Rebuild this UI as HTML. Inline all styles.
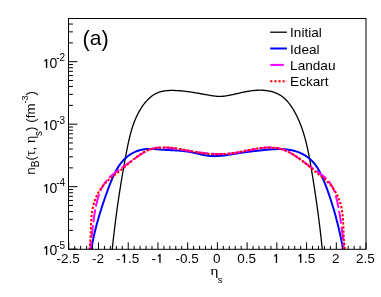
<!DOCTYPE html>
<html><head><meta charset="utf-8"><style>
html,body{margin:0;padding:0;background:#fff;}
body{width:381px;height:297px;overflow:hidden;}
svg{display:block;}
</style></head><body>
<svg width="381" height="297" viewBox="0 0 381 297">
<defs><clipPath id="fr"><rect x="68.5" y="18.5" width="297.5" height="230.8"/></clipPath></defs>
<g clip-path="url(#fr)" fill="none" stroke-linejoin="round">
<path d="M111.75,254.07L111.85,253.13L111.94,252.19L112.04,251.25L112.14,250.31L112.23,249.37L112.33,248.43L112.43,247.49L112.53,246.56L112.63,245.62L112.73,244.68L112.83,243.75L112.93,242.81L113.03,241.88L113.14,240.95L113.24,240.01L113.34,239.08L113.45,238.15L113.55,237.22L113.66,236.29L113.77,235.36L113.87,234.43L113.98,233.5L114.09,232.57L114.2,231.65L114.31,230.72L114.42,229.79L114.53,228.87L114.64,227.94L114.76,227.02L114.87,226.09L114.99,225.17L115.1,224.24L115.22,223.32L115.33,222.4L115.45,221.47L115.57,220.55L115.69,219.63L115.81,218.71L115.93,217.79L116.05,216.87L116.17,215.94L116.29,215.02L116.41,214.1L116.54,213.18L116.66,212.27L116.78,211.35L116.91,210.43L117.04,209.51L117.16,208.59L117.29,207.67L117.42,206.75L117.55,205.84L117.68,204.92L117.81,204L117.94,203.08L118.07,202.17L118.21,201.25L118.34,200.33L118.48,199.42L118.61,198.5L118.75,197.58L118.88,196.67L119.02,195.75L119.16,194.84L119.3,193.92L119.44,193L119.58,192.09L119.72,191.17L119.86,190.25L120.01,189.34L120.15,188.42L120.3,187.51L120.44,186.59L120.59,185.67L120.73,184.76L120.88,183.84L121.03,182.92L121.18,182.01L121.33,181.09L121.48,180.18L121.63,179.26L121.78,178.34L121.94,177.42L122.09,176.51L122.25,175.59L122.4,174.67L122.56,173.75L122.72,172.84L122.88,171.92L123.03,171L123.19,170.08L123.36,169.16L123.52,168.24L123.68,167.32L123.84,166.4L124.01,165.48L124.17,164.56L124.34,163.64L124.5,162.72L124.67,161.8L124.84,160.88L125.01,159.95L125.18,159.03L125.35,158.11L125.52,157.19L125.69,156.26L125.87,155.34L126.04,154.41L126.22,153.49L126.39,152.56L126.57,151.64L126.75,150.71L126.93,149.78L127.11,148.86L127.29,147.93L127.48,147.01L127.66,146.08L127.85,145.15L128.05,144.23L128.24,143.31L128.44,142.38L128.64,141.46L128.85,140.54L129.06,139.62L129.27,138.71L129.49,137.79L129.71,136.88L129.94,135.96L130.17,135.05L130.4,134.14L130.65,133.24L130.89,132.33L131.15,131.43L131.41,130.53L131.67,129.64L131.94,128.74L132.22,127.85L132.5,126.97L132.8,126.08L133.1,125.2L133.4,124.32L133.72,123.45L134.04,122.58L134.37,121.72L134.71,120.85L135.05,120L135.41,119.14L135.77,118.3L136.15,117.45L136.53,116.61L136.92,115.78L137.33,114.95L137.74,114.12L138.16,113.3L138.59,112.49L139.04,111.68L139.49,110.88L139.96,110.08L140.44,109.29L140.93,108.51L141.43,107.73L141.94,106.95L142.46,106.19L143,105.43L143.55,104.67L144.11,103.93L144.69,103.2L145.27,102.48L145.87,101.76L146.49,101.07L147.12,100.38L147.76,99.71L148.41,99.06L149.08,98.43L149.76,97.81L150.45,97.21L151.16,96.63L151.89,96.08L152.63,95.54L153.38,95.03L154.15,94.55L154.93,94.09L155.72,93.66L156.54,93.25L157.36,92.88L158.2,92.53L159.06,92.21L159.93,91.93L160.82,91.67L161.72,91.45L162.63,91.24L163.55,91.07L164.48,90.92L165.42,90.79L166.36,90.68L167.31,90.6L168.27,90.53L169.23,90.48L170.2,90.45L171.16,90.43L172.13,90.43L173.1,90.44L174.06,90.46L175.03,90.49L175.99,90.53L176.95,90.58L177.9,90.64L178.85,90.7L179.79,90.77L180.74,90.85L181.68,90.93L182.61,91.02L183.54,91.12L184.47,91.22L185.4,91.33L186.32,91.44L187.24,91.55L188.16,91.68L189.08,91.8L190,91.93L190.91,92.07L191.82,92.21L192.74,92.35L193.65,92.49L194.56,92.64L195.46,92.79L196.37,92.95L197.28,93.1L198.19,93.26L199.09,93.42L200,93.58L200.91,93.74L201.82,93.91L202.73,94.07L203.64,94.24L204.55,94.4L205.46,94.57L206.37,94.73L207.28,94.9L208.2,95.06L209.12,95.22L210.04,95.38L210.96,95.54L211.88,95.69L212.81,95.83L213.73,95.96L214.66,96.08L215.58,96.18L216.51,96.27L217.43,96.33L218.36,96.38L219.28,96.4L220.21,96.4L221.13,96.37L222.06,96.32L222.98,96.24L223.9,96.15L224.82,96.04L225.74,95.91L226.65,95.77L227.57,95.62L228.48,95.46L229.39,95.28L230.3,95.1L231.21,94.91L232.12,94.72L233.02,94.53L233.92,94.33L234.82,94.12L235.72,93.92L236.62,93.71L237.51,93.51L238.41,93.3L239.31,93.1L240.21,92.89L241.1,92.69L242,92.49L242.9,92.3L243.8,92.1L244.71,91.92L245.61,91.74L246.52,91.56L247.43,91.4L248.34,91.24L249.25,91.09L250.17,90.94L251.09,90.81L252.02,90.69L252.95,90.58L253.88,90.48L254.82,90.4L255.76,90.33L256.71,90.27L257.66,90.23L258.61,90.2L259.57,90.19L260.54,90.2L261.5,90.22L262.47,90.26L263.43,90.31L264.39,90.39L265.35,90.48L266.31,90.59L267.26,90.72L268.21,90.87L269.15,91.04L270.09,91.24L271.02,91.45L271.93,91.68L272.84,91.94L273.74,92.22L274.62,92.52L275.5,92.84L276.35,93.19L277.2,93.56L278.02,93.96L278.83,94.38L279.63,94.83L280.4,95.3L281.16,95.8L281.9,96.32L282.63,96.86L283.34,97.42L284.03,98.01L284.71,98.61L285.38,99.23L286.03,99.87L286.66,100.53L287.28,101.2L287.89,101.89L288.48,102.6L289.06,103.31L289.63,104.05L290.19,104.79L290.73,105.55L291.26,106.32L291.78,107.09L292.29,107.88L292.79,108.68L293.28,109.48L293.76,110.29L294.22,111.11L294.68,111.93L295.13,112.76L295.57,113.59L296.01,114.42L296.43,115.26L296.84,116.1L297.25,116.95L297.65,117.79L298.04,118.64L298.43,119.49L298.8,120.35L299.17,121.2L299.53,122.06L299.89,122.92L300.23,123.79L300.57,124.65L300.91,125.52L301.23,126.39L301.55,127.27L301.87,128.14L302.17,129.02L302.47,129.9L302.77,130.78L303.06,131.67L303.34,132.55L303.62,133.44L303.89,134.33L304.16,135.22L304.42,136.12L304.67,137.01L304.92,137.91L305.17,138.81L305.41,139.71L305.65,140.61L305.88,141.51L306.11,142.42L306.33,143.32L306.55,144.23L306.76,145.14L306.98,146.05L307.18,146.96L307.39,147.87L307.59,148.78L307.78,149.7L307.98,150.61L308.17,151.53L308.36,152.44L308.54,153.36L308.72,154.28L308.9,155.19L309.08,156.11L309.25,157.03L309.42,157.95L309.59,158.87L309.76,159.79L309.93,160.72L310.09,161.64L310.26,162.56L310.42,163.48L310.58,164.4L310.74,165.32L310.89,166.25L311.05,167.17L311.21,168.09L311.36,169.01L311.52,169.94L311.67,170.86L311.82,171.78L311.98,172.7L312.13,173.62L312.28,174.54L312.43,175.47L312.58,176.39L312.73,177.31L312.88,178.23L313.03,179.15L313.18,180.07L313.32,180.99L313.47,181.91L313.61,182.83L313.76,183.75L313.9,184.68L314.05,185.6L314.19,186.52L314.33,187.44L314.47,188.36L314.62,189.28L314.76,190.2L314.9,191.12L315.03,192.04L315.17,192.96L315.31,193.88L315.45,194.8L315.58,195.72L315.72,196.64L315.85,197.56L315.99,198.49L316.12,199.41L316.25,200.33L316.39,201.25L316.52,202.17L316.65,203.09L316.78,204.01L316.91,204.93L317.04,205.85L317.17,206.78L317.29,207.7L317.42,208.62L317.55,209.54L317.67,210.46L317.8,211.38L317.92,212.31L318.04,213.23L318.17,214.15L318.29,215.07L318.41,216L318.53,216.92L318.65,217.84L318.77,218.77L318.89,219.69L319,220.61L319.12,221.54L319.24,222.46L319.35,223.38L319.47,224.31L319.58,225.23L319.69,226.16L319.81,227.08L319.92,228.01L320.03,228.93L320.14,229.86L320.25,230.79L320.36,231.71L320.46,232.64L320.57,233.56L320.68,234.49L320.78,235.42L320.89,236.35L320.99,237.27L321.1,238.2L321.2,239.13L321.3,240.06L321.41,240.99L321.51,241.92L321.61,242.85L321.71,243.78L321.8,244.71L321.9,245.64L322,246.57L322.09,247.5L322.19,248.43L322.29,249.36L322.38,250.3L322.47,251.23L322.56,252.16L322.66,253.09L322.75,254.03" stroke="#000" stroke-width="1.3"/>
<path d="M90.48,254.15L90.6,253.32L90.73,252.5L90.86,251.69L91,250.87L91.13,250.06L91.27,249.25L91.41,248.44L91.55,247.64L91.69,246.83L91.84,246.03L91.99,245.24L92.14,244.44L92.29,243.65L92.44,242.86L92.6,242.07L92.76,241.28L92.92,240.5L93.08,239.72L93.24,238.93L93.41,238.16L93.57,237.38L93.74,236.6L93.91,235.83L94.09,235.06L94.26,234.29L94.44,233.52L94.62,232.75L94.8,231.99L94.98,231.22L95.17,230.46L95.35,229.7L95.54,228.94L95.73,228.18L95.93,227.43L96.12,226.67L96.32,225.91L96.51,225.16L96.71,224.41L96.91,223.65L97.12,222.9L97.32,222.15L97.53,221.4L97.74,220.65L97.95,219.91L98.16,219.16L98.38,218.41L98.59,217.67L98.81,216.92L99.03,216.17L99.25,215.43L99.47,214.68L99.7,213.94L99.92,213.2L100.15,212.45L100.38,211.71L100.61,210.96L100.85,210.22L101.08,209.48L101.32,208.73L101.56,207.99L101.8,207.25L102.04,206.5L102.28,205.76L102.53,205.01L102.78,204.27L103.02,203.52L103.27,202.78L103.53,202.03L103.78,201.28L104.03,200.54L104.29,199.79L104.55,199.04L104.81,198.29L105.07,197.54L105.33,196.79L105.6,196.03L105.87,195.28L106.13,194.53L106.4,193.77L106.67,193.02L106.95,192.26L107.22,191.5L107.5,190.74L107.77,189.98L108.05,189.22L108.33,188.45L108.61,187.69L108.9,186.92L109.19,186.16L109.47,185.39L109.77,184.63L110.06,183.86L110.36,183.1L110.66,182.34L110.97,181.58L111.28,180.82L111.59,180.07L111.91,179.31L112.23,178.56L112.55,177.81L112.88,177.07L113.22,176.33L113.56,175.59L113.91,174.85L114.26,174.13L114.61,173.4L114.98,172.68L115.35,171.97L115.72,171.26L116.11,170.56L116.5,169.86L116.89,169.17L117.3,168.49L117.71,167.81L118.12,167.14L118.55,166.48L118.99,165.83L119.43,165.18L119.88,164.54L120.34,163.92L120.81,163.3L121.28,162.69L121.77,162.09L122.27,161.5L122.77,160.92L123.29,160.35L123.81,159.79L124.35,159.24L124.89,158.7L125.45,158.18L126.02,157.66L126.6,157.16L127.19,156.67L127.79,156.2L128.4,155.74L129.02,155.29L129.66,154.85L130.31,154.43L130.96,154.02L131.63,153.63L132.31,153.25L132.99,152.88L133.69,152.53L134.39,152.19L135.1,151.87L135.82,151.57L136.55,151.28L137.28,151L138.03,150.75L138.77,150.5L139.53,150.28L140.28,150.07L141.05,149.88L141.82,149.7L142.59,149.54L143.37,149.4L144.15,149.28L144.93,149.18L145.72,149.09L146.51,149.02L147.3,148.97L148.09,148.93L148.89,148.91L149.69,148.9L150.49,148.91L151.29,148.92L152.09,148.95L152.89,148.99L153.69,149.03L154.5,149.08L155.3,149.13L156.11,149.19L156.91,149.26L157.71,149.32L158.52,149.39L159.32,149.45L160.12,149.52L160.93,149.58L161.73,149.63L162.53,149.69L163.32,149.74L164.12,149.79L164.92,149.83L165.71,149.88L166.51,149.92L167.3,149.97L168.09,150.01L168.89,150.05L169.68,150.09L170.47,150.13L171.26,150.17L172.05,150.21L172.84,150.26L173.63,150.3L174.41,150.34L175.2,150.39L175.99,150.44L176.77,150.49L177.56,150.55L178.34,150.6L179.13,150.66L179.91,150.73L180.69,150.8L181.48,150.87L182.26,150.94L183.04,151.02L183.82,151.11L184.61,151.2L185.39,151.3L186.17,151.4L186.95,151.51L187.73,151.63L188.51,151.75L189.3,151.88L190.08,152.02L190.86,152.17L191.64,152.32L192.42,152.48L193.2,152.64L193.98,152.81L194.76,152.98L195.55,153.16L196.33,153.34L197.11,153.52L197.89,153.7L198.67,153.87L199.45,154.05L200.24,154.23L201.02,154.4L201.8,154.57L202.58,154.74L203.36,154.9L204.15,155.05L204.93,155.2L205.71,155.34L206.49,155.46L207.28,155.59L208.06,155.69L208.84,155.79L209.63,155.88L210.41,155.95L211.2,156.01L211.98,156.06L212.77,156.1L213.55,156.12L214.34,156.13L215.12,156.13L215.91,156.12L216.69,156.1L217.48,156.06L218.26,156.02L219.05,155.97L219.83,155.92L220.62,155.85L221.41,155.78L222.19,155.7L222.98,155.61L223.76,155.51L224.55,155.42L225.33,155.31L226.12,155.2L226.9,155.09L227.69,154.97L228.47,154.85L229.25,154.72L230.04,154.6L230.82,154.47L231.6,154.34L232.39,154.21L233.17,154.07L233.95,153.94L234.73,153.81L235.51,153.68L236.29,153.55L237.07,153.42L237.85,153.29L238.63,153.17L239.41,153.04L240.19,152.92L240.96,152.81L241.74,152.69L242.52,152.58L243.3,152.47L244.07,152.36L244.85,152.26L245.63,152.15L246.4,152.05L247.18,151.95L247.96,151.85L248.74,151.76L249.51,151.66L250.29,151.57L251.07,151.48L251.85,151.38L252.63,151.29L253.41,151.2L254.2,151.11L254.98,151.03L255.76,150.94L256.55,150.85L257.34,150.76L258.13,150.68L258.91,150.59L259.71,150.5L260.5,150.42L261.29,150.33L262.09,150.24L262.88,150.16L263.68,150.07L264.48,149.99L265.28,149.91L266.08,149.83L266.88,149.75L267.68,149.67L268.48,149.6L269.28,149.53L270.09,149.47L270.89,149.4L271.69,149.35L272.5,149.29L273.3,149.24L274.1,149.2L274.9,149.16L275.7,149.13L276.51,149.1L277.31,149.08L278.11,149.07L278.9,149.07L279.7,149.07L280.5,149.08L281.29,149.09L282.09,149.12L282.88,149.15L283.67,149.2L284.46,149.25L285.25,149.31L286.04,149.38L286.82,149.46L287.6,149.56L288.38,149.66L289.16,149.78L289.93,149.9L290.71,150.04L291.47,150.19L292.24,150.35L293.01,150.53L293.77,150.72L294.53,150.92L295.28,151.14L296.03,151.37L296.78,151.61L297.52,151.87L298.26,152.14L299,152.43L299.73,152.73L300.46,153.05L301.18,153.38L301.89,153.72L302.6,154.08L303.3,154.45L303.99,154.83L304.67,155.23L305.35,155.64L306.01,156.07L306.67,156.51L307.32,156.96L307.96,157.42L308.59,157.9L309.2,158.38L309.81,158.89L310.4,159.4L310.98,159.93L311.55,160.47L312.11,161.02L312.65,161.58L313.18,162.15L313.7,162.74L314.2,163.34L314.69,163.95L315.17,164.56L315.64,165.19L316.1,165.83L316.55,166.48L316.98,167.13L317.41,167.8L317.83,168.47L318.23,169.15L318.63,169.83L319.02,170.53L319.4,171.23L319.78,171.93L320.14,172.64L320.5,173.36L320.86,174.08L321.2,174.8L321.54,175.53L321.88,176.27L322.21,177L322.53,177.74L322.85,178.48L323.16,179.23L323.47,179.97L323.78,180.72L324.09,181.47L324.39,182.21L324.69,182.96L324.98,183.71L325.28,184.46L325.57,185.21L325.86,185.96L326.14,186.71L326.43,187.45L326.71,188.2L326.99,188.95L327.26,189.7L327.54,190.45L327.81,191.2L328.08,191.95L328.35,192.7L328.61,193.45L328.88,194.2L329.14,194.95L329.4,195.7L329.65,196.46L329.91,197.21L330.16,197.96L330.41,198.71L330.66,199.46L330.91,200.22L331.15,200.97L331.39,201.72L331.63,202.48L331.87,203.23L332.11,203.98L332.34,204.74L332.57,205.49L332.8,206.25L333.03,207L333.26,207.76L333.48,208.51L333.71,209.27L333.93,210.03L334.15,210.79L334.36,211.54L334.58,212.3L334.79,213.06L335,213.82L335.21,214.58L335.42,215.34L335.63,216.1L335.84,216.86L336.04,217.62L336.24,218.38L336.44,219.14L336.64,219.9L336.84,220.67L337.03,221.43L337.23,222.19L337.42,222.96L337.61,223.72L337.8,224.49L337.99,225.26L338.17,226.02L338.36,226.79L338.54,227.56L338.72,228.32L338.9,229.09L339.08,229.86L339.26,230.63L339.44,231.4L339.61,232.17L339.79,232.95L339.96,233.72L340.13,234.49L340.3,235.26L340.47,236.04L340.64,236.81L340.81,237.59L340.97,238.36L341.14,239.14L341.3,239.92L341.46,240.7L341.63,241.48L341.79,242.26L341.94,243.04L342.1,243.82L342.26,244.6L342.42,245.38L342.57,246.16L342.73,246.95L342.88,247.73L343.03,248.52L343.18,249.3L343.33,250.09L343.48,250.88L343.63,251.67L343.78,252.46L343.93,253.25L344.07,254.04" stroke="#0000ff" stroke-width="2"/>
<path d="M89.61,254.03L89.73,253.23L89.84,252.43L89.95,251.63L90.06,250.83L90.17,250.03L90.27,249.24L90.37,248.44L90.47,247.65L90.57,246.85L90.66,246.06L90.76,245.27L90.85,244.48L90.94,243.69L91.03,242.9L91.12,242.11L91.21,241.32L91.3,240.53L91.38,239.75L91.47,238.96L91.55,238.18L91.64,237.39L91.72,236.61L91.8,235.82L91.89,235.04L91.97,234.26L92.05,233.47L92.14,232.69L92.22,231.91L92.3,231.13L92.39,230.35L92.48,229.57L92.56,228.79L92.65,228.01L92.74,227.23L92.83,226.44L92.92,225.66L93.01,224.88L93.11,224.1L93.2,223.32L93.3,222.54L93.4,221.76L93.5,220.98L93.6,220.2L93.71,219.42L93.82,218.64L93.93,217.86L94.04,217.08L94.16,216.3L94.28,215.51L94.4,214.73L94.52,213.95L94.65,213.17L94.78,212.38L94.92,211.6L95.06,210.81L95.2,210.03L95.35,209.24L95.5,208.45L95.65,207.67L95.81,206.88L95.97,206.09L96.14,205.3L96.31,204.51L96.49,203.72L96.67,202.93L96.86,202.14L97.05,201.36L97.25,200.57L97.45,199.79L97.67,199L97.89,198.23L98.12,197.45L98.35,196.68L98.59,195.91L98.84,195.15L99.11,194.39L99.37,193.63L99.65,192.88L99.94,192.14L100.24,191.4L100.55,190.67L100.86,189.95L101.19,189.24L101.53,188.53L101.88,187.83L102.25,187.14L102.62,186.46L103.01,185.79L103.41,185.12L103.82,184.47L104.24,183.83L104.68,183.2L105.13,182.58L105.59,181.96L106.07,181.36L106.55,180.77L107.04,180.18L107.55,179.6L108.07,179.03L108.59,178.47L109.13,177.91L109.67,177.37L110.22,176.83L110.78,176.29L111.35,175.76L111.93,175.24L112.52,174.73L113.11,174.22L113.71,173.71L114.32,173.21L114.93,172.72L115.55,172.23L116.17,171.74L116.81,171.26L117.44,170.78L118.08,170.3L118.72,169.83L119.37,169.36L120.03,168.89L120.68,168.42L121.34,167.96L122,167.5L122.67,167.04L123.33,166.58L124,166.12L124.67,165.66L125.34,165.21L126.02,164.75L126.69,164.29L127.36,163.83L128.03,163.37L128.71,162.91L129.38,162.45L130.05,161.99L130.72,161.52L131.39,161.05L132.05,160.58L132.72,160.11L133.38,159.64L134.04,159.16L134.7,158.69L135.36,158.21L136.02,157.74L136.68,157.27L137.33,156.8L137.99,156.34L138.65,155.88L139.31,155.42L139.97,154.97L140.63,154.53L141.29,154.09L141.96,153.66L142.62,153.24L143.29,152.83L143.96,152.43L144.64,152.04L145.31,151.66L145.99,151.29L146.68,150.94L147.36,150.6L148.06,150.27L148.75,149.96L149.45,149.66L150.16,149.38L150.87,149.12L151.59,148.88L152.31,148.65L153.04,148.44L153.77,148.26L154.52,148.09L155.26,147.94L156.02,147.82L156.78,147.71L157.54,147.62L158.31,147.55L159.09,147.5L159.87,147.46L160.66,147.43L161.44,147.42L162.24,147.43L163.03,147.45L163.83,147.47L164.63,147.52L165.43,147.57L166.24,147.63L167.05,147.7L167.85,147.78L168.66,147.86L169.47,147.95L170.28,148.05L171.09,148.15L171.9,148.26L172.71,148.37L173.52,148.49L174.33,148.6L175.13,148.72L175.94,148.84L176.74,148.96L177.54,149.08L178.34,149.2L179.14,149.33L179.94,149.45L180.74,149.57L181.53,149.7L182.33,149.83L183.12,149.95L183.91,150.08L184.71,150.2L185.5,150.33L186.28,150.46L187.07,150.58L187.86,150.71L188.65,150.83L189.43,150.95L190.22,151.08L191,151.2L191.78,151.32L192.57,151.44L193.35,151.56L194.13,151.68L194.91,151.8L195.69,151.91L196.47,152.02L197.25,152.13L198.03,152.24L198.81,152.35L199.58,152.46L200.36,152.56L201.14,152.66L201.91,152.76L202.69,152.85L203.47,152.94L204.24,153.03L205.02,153.12L205.79,153.2L206.57,153.28L207.34,153.36L208.12,153.43L208.89,153.5L209.67,153.57L210.44,153.63L211.22,153.69L211.99,153.74L212.77,153.79L213.54,153.83L214.32,153.88L215.1,153.91L215.87,153.94L216.65,153.97L217.43,153.99L218.2,154.01L218.98,154.02L219.76,154.03L220.54,154.03L221.31,154.02L222.09,154.01L222.87,154L223.65,153.97L224.44,153.95L225.22,153.91L226,153.87L226.78,153.83L227.57,153.77L228.35,153.71L229.14,153.65L229.92,153.57L230.71,153.49L231.5,153.41L232.29,153.31L233.08,153.21L233.87,153.1L234.66,152.99L235.45,152.87L236.25,152.74L237.04,152.61L237.84,152.47L238.63,152.33L239.43,152.19L240.22,152.04L241.02,151.89L241.82,151.73L242.61,151.58L243.41,151.42L244.21,151.26L245.01,151.09L245.81,150.93L246.6,150.77L247.4,150.6L248.2,150.44L249,150.27L249.79,150.11L250.59,149.95L251.39,149.79L252.19,149.63L252.98,149.48L253.78,149.33L254.57,149.18L255.37,149.03L256.16,148.89L256.96,148.76L257.75,148.62L258.54,148.5L259.33,148.38L260.12,148.26L260.91,148.15L261.7,148.05L262.49,147.96L263.27,147.87L264.06,147.79L264.84,147.72L265.63,147.66L266.41,147.61L267.19,147.57L267.97,147.53L268.74,147.51L269.52,147.5L270.29,147.5L271.07,147.51L271.84,147.53L272.6,147.56L273.37,147.61L274.14,147.67L274.9,147.75L275.66,147.83L276.42,147.93L277.18,148.05L277.93,148.18L278.69,148.33L279.44,148.49L280.19,148.67L280.93,148.86L281.68,149.07L282.42,149.3L283.16,149.55L283.89,149.81L284.63,150.1L285.36,150.4L286.08,150.71L286.81,151.05L287.53,151.39L288.25,151.76L288.97,152.13L289.68,152.52L290.39,152.92L291.09,153.33L291.79,153.74L292.49,154.17L293.19,154.6L293.88,155.05L294.56,155.49L295.25,155.94L295.92,156.4L296.6,156.86L297.27,157.32L297.93,157.78L298.59,158.24L299.24,158.7L299.89,159.16L300.54,159.63L301.18,160.08L301.82,160.54L302.46,161L303.1,161.46L303.73,161.92L304.36,162.37L304.99,162.83L305.62,163.29L306.25,163.74L306.88,164.2L307.51,164.65L308.15,165.1L308.78,165.56L309.41,166.01L310.05,166.46L310.69,166.91L311.34,167.37L311.99,167.82L312.64,168.27L313.29,168.72L313.95,169.17L314.6,169.62L315.26,170.08L315.92,170.53L316.58,170.99L317.23,171.45L317.89,171.91L318.54,172.38L319.19,172.85L319.83,173.32L320.47,173.8L321.11,174.29L321.74,174.78L322.36,175.27L322.97,175.77L323.58,176.28L324.18,176.8L324.77,177.32L325.35,177.85L325.92,178.38L326.48,178.93L327.03,179.48L327.56,180.05L328.08,180.62L328.59,181.2L329.09,181.8L329.56,182.4L330.03,183.02L330.47,183.65L330.9,184.29L331.32,184.94L331.71,185.6L332.09,186.27L332.46,186.96L332.81,187.65L333.15,188.35L333.47,189.07L333.78,189.79L334.07,190.52L334.36,191.25L334.63,192L334.89,192.75L335.14,193.51L335.38,194.27L335.61,195.04L335.84,195.81L336.05,196.58L336.26,197.37L336.46,198.15L336.65,198.94L336.84,199.72L337.02,200.52L337.19,201.31L337.36,202.1L337.53,202.9L337.69,203.69L337.85,204.48L338.01,205.27L338.16,206.07L338.32,206.86L338.47,207.64L338.62,208.43L338.76,209.22L338.91,210.01L339.05,210.79L339.19,211.57L339.33,212.36L339.47,213.14L339.6,213.92L339.74,214.7L339.87,215.48L340,216.26L340.12,217.04L340.25,217.82L340.37,218.6L340.49,219.38L340.61,220.16L340.73,220.94L340.85,221.71L340.96,222.49L341.08,223.27L341.19,224.04L341.3,224.82L341.4,225.6L341.51,226.38L341.61,227.15L341.71,227.93L341.81,228.71L341.91,229.49L342.01,230.27L342.11,231.05L342.2,231.83L342.29,232.61L342.38,233.39L342.47,234.17L342.56,234.95L342.65,235.74L342.73,236.52L342.82,237.3L342.9,238.09L342.98,238.88L343.06,239.66L343.14,240.45L343.21,241.24L343.29,242.03L343.36,242.82L343.43,243.62L343.5,244.41L343.57,245.21L343.64,246L343.71,246.8L343.77,247.6L343.84,248.41L343.9,249.21L343.96,250.01L344.03,250.82L344.09,251.63L344.14,252.44L344.2,253.25L344.26,254.07" stroke="#ff00ff" stroke-width="2" stroke-dasharray="13 3"/>
<path d="M88.34,253.96L88.53,253.19L88.7,252.41L88.86,251.62L89.02,250.84L89.16,250.06L89.3,249.27L89.43,248.49L89.54,247.7L89.65,246.92L89.76,246.13L89.85,245.34L89.94,244.55L90.03,243.76L90.1,242.97L90.17,242.18L90.24,241.38L90.3,240.59L90.36,239.8L90.41,239L90.45,238.21L90.5,237.41L90.54,236.62L90.58,235.82L90.61,235.03L90.64,234.23L90.67,233.43L90.7,232.64L90.73,231.84L90.76,231.04L90.79,230.24L90.81,229.44L90.84,228.65L90.87,227.85L90.9,227.05L90.93,226.25L90.96,225.46L90.99,224.66L91.03,223.86L91.07,223.06L91.11,222.27L91.15,221.47L91.2,220.67L91.26,219.88L91.31,219.08L91.38,218.28L91.45,217.49L91.52,216.69L91.6,215.9L91.69,215.1L91.78,214.31L91.88,213.52L91.98,212.73L92.1,211.94L92.22,211.15L92.35,210.36L92.49,209.57L92.64,208.78L92.8,207.99L92.97,207.21L93.14,206.43L93.33,205.65L93.52,204.87L93.73,204.1L93.94,203.33L94.16,202.56L94.4,201.8L94.64,201.04L94.9,200.28L95.16,199.54L95.43,198.79L95.72,198.05L96.02,197.32L96.32,196.59L96.64,195.87L96.97,195.16L97.31,194.46L97.67,193.76L98.03,193.06L98.41,192.38L98.8,191.71L99.2,191.04L99.61,190.38L100.03,189.73L100.47,189.09L100.92,188.46L101.38,187.84L101.85,187.22L102.33,186.62L102.82,186.02L103.32,185.42L103.84,184.84L104.36,184.26L104.89,183.69L105.43,183.12L105.97,182.56L106.53,182.01L107.09,181.46L107.66,180.92L108.24,180.38L108.82,179.85L109.41,179.32L110,178.79L110.6,178.27L111.21,177.75L111.82,177.23L112.43,176.72L113.05,176.21L113.67,175.7L114.3,175.2L114.93,174.69L115.56,174.19L116.19,173.69L116.83,173.19L117.46,172.69L118.1,172.19L118.74,171.69L119.38,171.19L120.02,170.69L120.66,170.19L121.3,169.68L121.94,169.18L122.57,168.68L123.21,168.17L123.84,167.66L124.48,167.15L125.1,166.64L125.73,166.12L126.35,165.6L126.97,165.07L127.59,164.55L128.2,164.02L128.82,163.49L129.43,162.96L130.04,162.44L130.64,161.91L131.25,161.38L131.86,160.86L132.47,160.34L133.08,159.82L133.69,159.3L134.3,158.79L134.91,158.29L135.53,157.79L136.15,157.29L136.77,156.81L137.39,156.33L138.02,155.86L138.65,155.4L139.29,154.94L139.93,154.5L140.57,154.07L141.23,153.65L141.88,153.24L142.55,152.84L143.22,152.45L143.9,152.08L144.58,151.73L145.28,151.39L145.98,151.06L146.69,150.75L147.41,150.46L148.13,150.18L148.86,149.91L149.61,149.66L150.35,149.43L151.11,149.21L151.87,149.01L152.63,148.81L153.4,148.64L154.18,148.47L154.96,148.32L155.74,148.19L156.53,148.06L157.32,147.95L158.12,147.85L158.92,147.76L159.72,147.69L160.52,147.63L161.32,147.57L162.13,147.53L162.93,147.5L163.74,147.48L164.55,147.48L165.36,147.48L166.16,147.49L166.97,147.51L167.77,147.54L168.58,147.58L169.38,147.63L170.18,147.69L170.98,147.76L171.78,147.83L172.57,147.91L173.37,148L174.16,148.1L174.95,148.2L175.74,148.31L176.53,148.42L177.32,148.54L178.11,148.67L178.9,148.8L179.68,148.93L180.47,149.07L181.25,149.21L182.04,149.36L182.82,149.51L183.6,149.66L184.38,149.81L185.17,149.97L185.95,150.13L186.73,150.29L187.51,150.45L188.29,150.61L189.07,150.77L189.85,150.93L190.63,151.09L191.41,151.25L192.19,151.41L192.96,151.56L193.74,151.72L194.52,151.87L195.3,152.02L196.08,152.17L196.86,152.32L197.64,152.46L198.43,152.6L199.21,152.73L199.99,152.86L200.77,152.98L201.56,153.1L202.34,153.21L203.12,153.32L203.91,153.42L204.7,153.52L205.48,153.6L206.27,153.69L207.06,153.77L207.85,153.84L208.63,153.9L209.42,153.96L210.21,154.02L211,154.07L211.79,154.11L212.58,154.15L213.37,154.18L214.17,154.2L214.96,154.22L215.75,154.23L216.54,154.24L217.33,154.24L218.12,154.24L218.92,154.23L219.71,154.21L220.5,154.19L221.29,154.16L222.09,154.13L222.88,154.09L223.67,154.04L224.46,153.99L225.25,153.94L226.04,153.87L226.84,153.8L227.63,153.73L228.42,153.65L229.21,153.56L230,153.47L230.79,153.37L231.58,153.27L232.36,153.16L233.15,153.04L233.94,152.92L234.73,152.8L235.51,152.67L236.3,152.53L237.09,152.39L237.87,152.25L238.66,152.1L239.44,151.95L240.23,151.8L241.01,151.65L241.8,151.49L242.58,151.33L243.37,151.17L244.15,151.01L244.94,150.85L245.72,150.69L246.5,150.53L247.29,150.37L248.07,150.21L248.86,150.06L249.64,149.9L250.43,149.75L251.21,149.59L252,149.44L252.78,149.3L253.57,149.16L254.35,149.02L255.14,148.88L255.92,148.75L256.71,148.62L257.5,148.5L258.29,148.39L259.07,148.28L259.86,148.18L260.65,148.08L261.44,147.99L262.23,147.91L263.02,147.83L263.81,147.76L264.61,147.71L265.4,147.65L266.19,147.61L266.99,147.58L267.78,147.56L268.58,147.55L269.37,147.55L270.17,147.56L270.96,147.58L271.76,147.61L272.55,147.66L273.34,147.71L274.13,147.79L274.92,147.87L275.7,147.97L276.49,148.08L277.27,148.21L278.05,148.35L278.82,148.51L279.59,148.68L280.36,148.87L281.12,149.08L281.88,149.3L282.64,149.54L283.39,149.79L284.13,150.06L284.87,150.35L285.61,150.64L286.34,150.95L287.07,151.27L287.79,151.6L288.5,151.94L289.21,152.29L289.91,152.65L290.61,153.02L291.3,153.39L291.99,153.78L292.67,154.17L293.35,154.57L294.02,154.98L294.69,155.4L295.36,155.82L296.02,156.25L296.68,156.69L297.33,157.13L297.98,157.58L298.63,158.04L299.27,158.5L299.91,158.97L300.55,159.44L301.18,159.92L301.81,160.4L302.44,160.88L303.07,161.37L303.69,161.87L304.32,162.36L304.94,162.86L305.56,163.37L306.17,163.87L306.79,164.38L307.41,164.9L308.02,165.41L308.63,165.92L309.25,166.44L309.86,166.96L310.47,167.48L311.08,168L311.69,168.52L312.3,169.04L312.92,169.56L313.53,170.08L314.14,170.6L314.75,171.12L315.37,171.63L315.98,172.15L316.6,172.66L317.22,173.18L317.84,173.69L318.46,174.2L319.08,174.7L319.7,175.21L320.32,175.72L320.94,176.23L321.56,176.74L322.17,177.25L322.78,177.76L323.39,178.27L324,178.79L324.6,179.31L325.2,179.84L325.79,180.36L326.37,180.9L326.95,181.44L327.53,181.98L328.09,182.53L328.65,183.09L329.2,183.65L329.74,184.22L330.28,184.8L330.8,185.39L331.31,185.98L331.81,186.59L332.3,187.2L332.78,187.83L333.25,188.46L333.71,189.1L334.15,189.76L334.59,190.42L335.01,191.08L335.42,191.76L335.82,192.44L336.21,193.13L336.58,193.83L336.95,194.53L337.3,195.24L337.64,195.96L337.97,196.68L338.29,197.4L338.59,198.13L338.89,198.87L339.17,199.61L339.44,200.35L339.7,201.1L339.94,201.85L340.18,202.61L340.4,203.36L340.61,204.12L340.81,204.89L341.01,205.65L341.19,206.42L341.36,207.19L341.52,207.97L341.67,208.74L341.82,209.52L341.95,210.3L342.08,211.08L342.2,211.87L342.31,212.66L342.41,213.45L342.51,214.24L342.6,215.03L342.69,215.82L342.77,216.62L342.84,217.42L342.91,218.21L342.97,219.01L343.03,219.81L343.08,220.62L343.13,221.42L343.18,222.22L343.22,223.03L343.26,223.83L343.3,224.64L343.34,225.44L343.37,226.25L343.4,227.05L343.43,227.86L343.46,228.67L343.49,229.47L343.51,230.28L343.54,231.08L343.57,231.89L343.6,232.69L343.63,233.5L343.66,234.3L343.69,235.1L343.72,235.91L343.76,236.71L343.8,237.51L343.84,238.31L343.88,239.1L343.93,239.9L343.98,240.69L344.04,241.49L344.09,242.28L344.16,243.07L344.23,243.86L344.3,244.64L344.38,245.43L344.47,246.21L344.56,246.99L344.66,247.77L344.77,248.54L344.88,249.32L345,250.09L345.13,250.85L345.27,251.62L345.41,252.38L345.57,253.14L345.73,253.89" stroke="#ff0000" stroke-width="2" stroke-dasharray="2.4 1.7"/>
</g>
<rect x="68.5" y="18.5" width="297.5" height="230.8" fill="none" stroke="#000" stroke-width="1"/>
<path d="M68.78,249.3 V242.4 M74.72,249.3 V245.85 M80.67,249.3 V245.85 M86.61,249.3 V245.85 M92.55,249.3 V245.85 M98.5,249.3 V242.4 M104.45,249.3 V245.85 M110.39,249.3 V245.85 M116.34,249.3 V245.85 M122.28,249.3 V245.85 M128.22,249.3 V242.4 M134.17,249.3 V245.85 M140.12,249.3 V245.85 M146.06,249.3 V245.85 M152,249.3 V245.85 M157.95,249.3 V242.4 M163.9,249.3 V245.85 M169.84,249.3 V245.85 M175.78,249.3 V245.85 M181.73,249.3 V245.85 M187.68,249.3 V242.4 M193.62,249.3 V245.85 M199.57,249.3 V245.85 M205.51,249.3 V245.85 M211.46,249.3 V245.85 M217.4,249.3 V242.4 M223.34,249.3 V245.85 M229.29,249.3 V245.85 M235.24,249.3 V245.85 M241.18,249.3 V245.85 M247.12,249.3 V242.4 M253.07,249.3 V245.85 M259.01,249.3 V245.85 M264.96,249.3 V245.85 M270.91,249.3 V245.85 M276.85,249.3 V242.4 M282.8,249.3 V245.85 M288.74,249.3 V245.85 M294.69,249.3 V245.85 M300.63,249.3 V245.85 M306.58,249.3 V242.4 M312.52,249.3 V245.85 M318.47,249.3 V245.85 M324.41,249.3 V245.85 M330.36,249.3 V245.85 M336.3,249.3 V242.4 M342.25,249.3 V245.85 M348.19,249.3 V245.85 M354.14,249.3 V245.85 M360.08,249.3 V245.85 M366.02,249.3 V242.4 M68.5,249.17 H77.4 M68.5,230.36 H72.95 M68.5,219.35 H72.95 M68.5,211.54 H72.95 M68.5,205.48 H72.95 M68.5,200.54 H72.95 M68.5,196.35 H72.95 M68.5,192.73 H72.95 M68.5,189.53 H72.95 M68.5,186.67 H77.4 M68.5,167.86 H72.95 M68.5,156.85 H72.95 M68.5,149.04 H72.95 M68.5,142.98 H72.95 M68.5,138.04 H72.95 M68.5,133.85 H72.95 M68.5,130.23 H72.95 M68.5,127.03 H72.95 M68.5,124.17 H77.4 M68.5,105.36 H72.95 M68.5,94.35 H72.95 M68.5,86.54 H72.95 M68.5,80.48 H72.95 M68.5,75.54 H72.95 M68.5,71.35 H72.95 M68.5,67.73 H72.95 M68.5,64.53 H72.95 M68.5,61.67 H77.4 M68.5,42.86 H72.95 M68.5,31.85 H72.95 M68.5,24.04 H72.95" stroke="#000" stroke-width="1" fill="none"/>
<g font-family="Liberation Sans, Arial, sans-serif" font-size="13.5" fill="#000">
<text x="68.18" y="262.6" text-anchor="middle">-2.5</text><text x="97.9" y="262.6" text-anchor="middle">-2</text><text x="127.62" y="262.6" text-anchor="middle">-<tspan font-family="NanumGothic, sans-serif" font-weight="bold" font-size="12.2">1</tspan>.5</text><text x="157.35" y="262.6" text-anchor="middle">-<tspan font-family="NanumGothic, sans-serif" font-weight="bold" font-size="12.2">1</tspan></text><text x="187.08" y="262.6" text-anchor="middle">-0.5</text><text x="216.8" y="262.6" text-anchor="middle">0</text><text x="246.53" y="262.6" text-anchor="middle">0.5</text><text x="276.25" y="262.6" text-anchor="middle"><tspan font-family="NanumGothic, sans-serif" font-weight="bold" font-size="12.2">1</tspan></text><text x="305.98" y="262.6" text-anchor="middle"><tspan font-family="NanumGothic, sans-serif" font-weight="bold" font-size="12.2">1</tspan>.5</text><text x="335.7" y="262.6" text-anchor="middle">2</text><text x="365.42" y="262.6" text-anchor="middle">2.5</text>
<text x="42.6" y="67.57" font-size="14"><tspan font-family="NanumGothic, sans-serif" font-weight="bold" font-size="12.6">1</tspan><tspan dx="-0.8">0</tspan><tspan font-size="10" dx="-1.1" dy="-6.2">-2</tspan></text><text x="42.6" y="130.07" font-size="14"><tspan font-family="NanumGothic, sans-serif" font-weight="bold" font-size="12.6">1</tspan><tspan dx="-0.8">0</tspan><tspan font-size="10" dx="-1.1" dy="-6.2">-3</tspan></text><text x="42.6" y="192.57" font-size="14"><tspan font-family="NanumGothic, sans-serif" font-weight="bold" font-size="12.6">1</tspan><tspan dx="-0.8">0</tspan><tspan font-size="10" dx="-1.1" dy="-6.2">-4</tspan></text><text x="42.6" y="255.07" font-size="14"><tspan font-family="NanumGothic, sans-serif" font-weight="bold" font-size="12.6">1</tspan><tspan dx="-0.8">0</tspan><tspan font-size="10" dx="-1.1" dy="-6.2">-5</tspan></text>
</g>
<g font-family="Liberation Sans, Arial, sans-serif" fill="#000">
<text x="82.6" y="45.2" font-size="21"><tspan font-size="21.8" dy="0.5">(</tspan><tspan dy="-0.5">a</tspan><tspan font-size="21.8" dy="0.5">)</tspan></text>
<g font-size="13.6">
<text x="290.1" y="37">Initial</text>
<text x="290.1" y="53.5">Ideal</text>
<text x="290.1" y="69.9">Landau</text>
<text x="290.1" y="86.2">Eckart</text>
</g>
<line x1="270.2" y1="32.2" x2="286.9" y2="32.2" stroke="#000" stroke-width="1.3"/>
<line x1="270.2" y1="48.5" x2="286.9" y2="48.5" stroke="#0000ff" stroke-width="2"/>
<line x1="270.2" y1="64.9" x2="283.8" y2="64.9" stroke="#ff00ff" stroke-width="2"/>
<line x1="270.2" y1="81.2" x2="286.9" y2="81.2" stroke="#ff0000" stroke-width="2" stroke-dasharray="2.2 1.9"/>
<text transform="translate(210.2,274.6) scale(1.22,0.9)" font-size="13" font-family="Liberation Serif, serif">&#951;</text><text x="217.8" y="282.5" font-size="9.5">s</text>
<text transform="translate(34.8,132.8) rotate(-90)" text-anchor="middle" font-size="13.4">n<tspan font-size="10" dy="4.5">B</tspan><tspan dy="-4.5">(</tspan><tspan font-family="Liberation Serif, serif" font-size="14">&#964;</tspan>, <tspan font-family="Liberation Serif, serif" font-size="14">&#951;</tspan><tspan font-size="10" dx="-0.3" dy="7.2">s</tspan><tspan dy="-7.2">) (fm</tspan><tspan font-size="9" dy="-6.6">-3</tspan><tspan dy="6.6">)</tspan></text>
</g>
</svg>
</body></html>
